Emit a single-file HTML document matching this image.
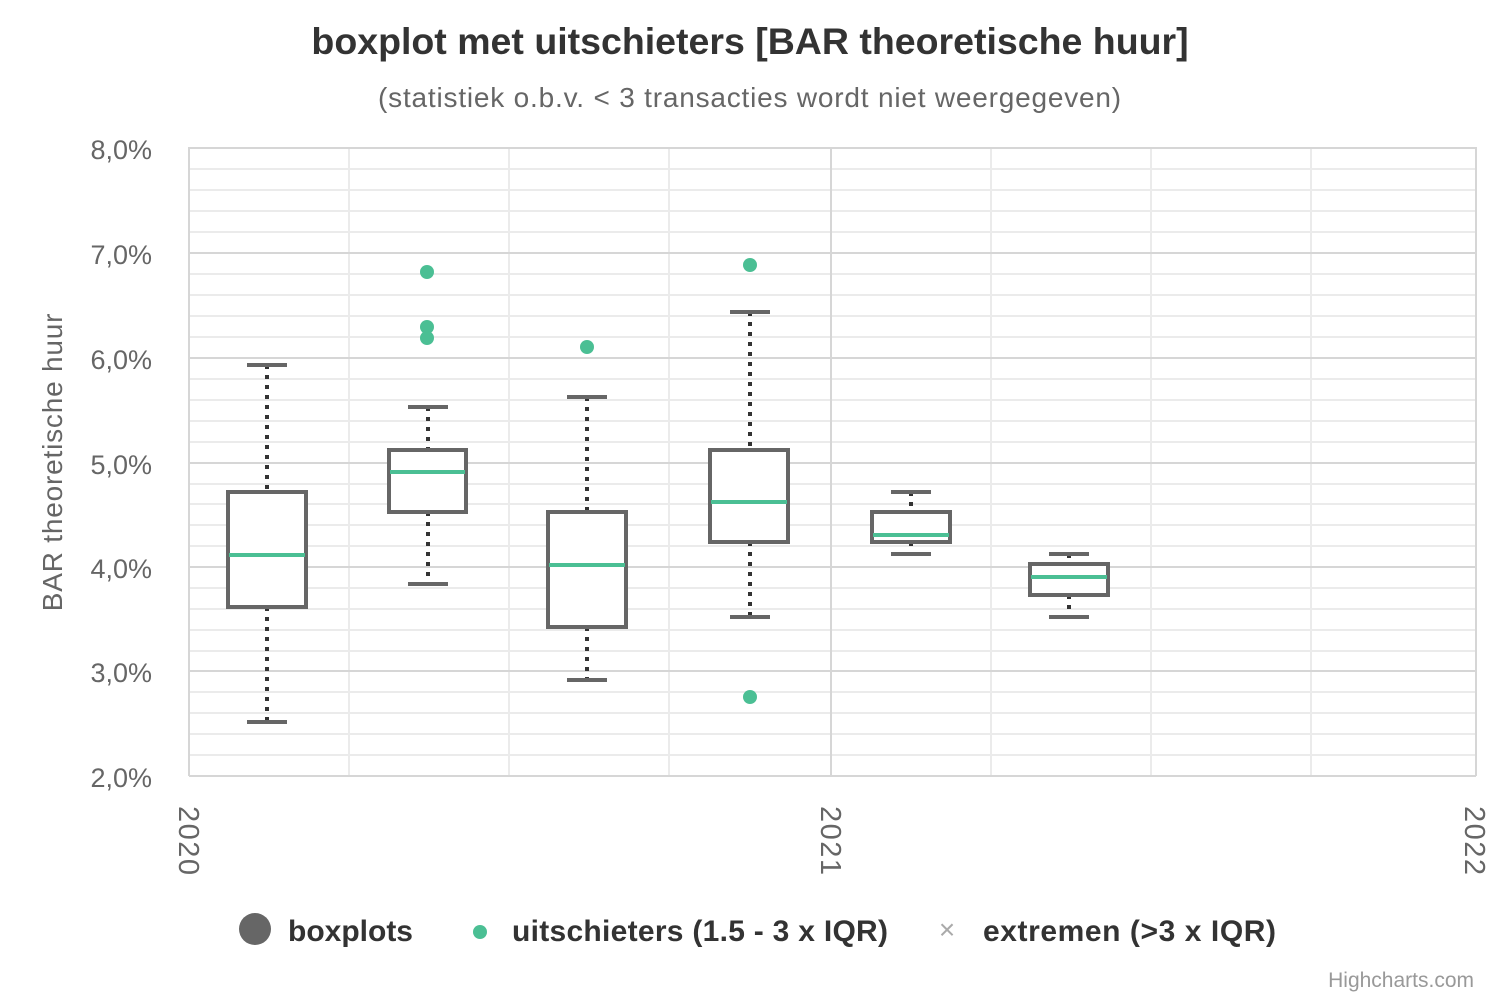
<!DOCTYPE html>
<html><head><meta charset="utf-8"><style>
html,body{margin:0;padding:0;background:#fff}
svg{display:block;font-family:"Liberation Sans",sans-serif}
</style></head><body>
<svg width="1500" height="1000" viewBox="0 0 1500 1000">
<rect width="1500" height="1000" fill="#fff"/>
<text x="750" y="54" text-anchor="middle" font-size="37.5" font-weight="bold" fill="#333">boxplot met uitschieters [BAR theoretische huur]</text>
<text x="750" y="107" text-anchor="middle" font-size="28" letter-spacing="0.8" fill="#666">(statistiek o.b.v. &lt; 3 transacties wordt niet weergegeven)</text>
<g stroke="#ebebeb" stroke-width="2">
<line x1="189" x2="1476" y1="169" y2="169"/><line x1="189" x2="1476" y1="190" y2="190"/><line x1="189" x2="1476" y1="211" y2="211"/><line x1="189" x2="1476" y1="232" y2="232"/>
<line x1="189" x2="1476" y1="274" y2="274"/><line x1="189" x2="1476" y1="295" y2="295"/><line x1="189" x2="1476" y1="316" y2="316"/><line x1="189" x2="1476" y1="337" y2="337"/>
<line x1="189" x2="1476" y1="379" y2="379"/><line x1="189" x2="1476" y1="400" y2="400"/><line x1="189" x2="1476" y1="421" y2="421"/><line x1="189" x2="1476" y1="442" y2="442"/>
<line x1="189" x2="1476" y1="484" y2="484"/><line x1="189" x2="1476" y1="504" y2="504"/><line x1="189" x2="1476" y1="525" y2="525"/><line x1="189" x2="1476" y1="546" y2="546"/>
<line x1="189" x2="1476" y1="588" y2="588"/><line x1="189" x2="1476" y1="609" y2="609"/><line x1="189" x2="1476" y1="630" y2="630"/><line x1="189" x2="1476" y1="651" y2="651"/>
<line x1="189" x2="1476" y1="692" y2="692"/><line x1="189" x2="1476" y1="713" y2="713"/><line x1="189" x2="1476" y1="734" y2="734"/><line x1="189" x2="1476" y1="755" y2="755"/>
<line x1="349" x2="349" y1="147" y2="776"/><line x1="509" x2="509" y1="147" y2="776"/><line x1="669" x2="669" y1="147" y2="776"/><line x1="991" x2="991" y1="147" y2="776"/><line x1="1151" x2="1151" y1="147" y2="776"/><line x1="1311" x2="1311" y1="147" y2="776"/>
</g>
<g stroke="#d6d6d6" stroke-width="2">
<line x1="189" x2="1476" y1="148" y2="148"/><line x1="189" x2="1476" y1="253" y2="253"/><line x1="189" x2="1476" y1="358" y2="358"/><line x1="189" x2="1476" y1="463" y2="463"/><line x1="189" x2="1476" y1="567" y2="567"/><line x1="189" x2="1476" y1="671" y2="671"/><line x1="189" x2="1476" y1="776" y2="776"/>
<line x1="189" x2="189" y1="147" y2="776"/><line x1="831" x2="831" y1="147" y2="776"/><line x1="1476" x2="1476" y1="147" y2="776"/>
</g>
<g font-size="27" fill="#666" text-anchor="end">
<text x="152" y="159">8,0%</text><text x="152" y="264">7,0%</text><text x="152" y="369">6,0%</text><text x="152" y="474">5,0%</text><text x="152" y="578">4,0%</text><text x="152" y="682">3,0%</text><text x="152" y="787">2,0%</text>
</g>
<text transform="translate(62,462) rotate(-90)" text-anchor="middle" font-size="28" letter-spacing="0.8" fill="#666">BAR theoretische huur</text>
<g font-size="29" letter-spacing="1.5" fill="#666">
<text transform="translate(179,806) rotate(90)">2020</text>
<text transform="translate(821,806) rotate(90)">2021</text>
<text transform="translate(1465,806) rotate(90)">2022</text>
</g>
<g stroke="#333" stroke-width="4" stroke-dasharray="4 6">
<line x1="267" x2="267" y1="365" y2="492"/><line x1="267" x2="267" y1="607" y2="722"/>
<line x1="428" x2="428" y1="407" y2="450"/><line x1="428" x2="428" y1="512" y2="584"/>
<line x1="587" x2="587" y1="397" y2="512"/><line x1="587" x2="587" y1="627" y2="680"/>
<line x1="750" x2="750" y1="312" y2="450"/><line x1="750" x2="750" y1="542" y2="617"/>
<line x1="911" x2="911" y1="492" y2="512"/><line x1="911" x2="911" y1="542" y2="554"/>
<line x1="1069" x2="1069" y1="554" y2="564"/><line x1="1069" x2="1069" y1="595" y2="617"/>
</g>
<g stroke="#666" stroke-width="4">
<line x1="247" x2="287" y1="365" y2="365"/><line x1="247" x2="287" y1="722" y2="722"/>
<line x1="408" x2="448" y1="407" y2="407"/><line x1="408" x2="448" y1="584" y2="584"/>
<line x1="567" x2="607" y1="397" y2="397"/><line x1="567" x2="607" y1="680" y2="680"/>
<line x1="730" x2="770" y1="312" y2="312"/><line x1="730" x2="770" y1="617" y2="617"/>
<line x1="891" x2="931" y1="492" y2="492"/><line x1="891" x2="931" y1="554" y2="554"/>
<line x1="1049" x2="1089" y1="554" y2="554"/><line x1="1049" x2="1089" y1="617" y2="617"/>
</g>
<g stroke="#666" stroke-width="4" fill="#fff">
<rect x="228" y="492" width="78" height="115"/>
<rect x="389" y="450" width="77" height="62"/>
<rect x="548" y="512" width="78" height="115"/>
<rect x="710" y="450" width="78" height="92"/>
<rect x="872" y="512" width="78" height="30"/>
<rect x="1030" y="564" width="78" height="31"/>
</g>
<g stroke="#4bbf94" stroke-width="4">
<line x1="229" x2="305" y1="555" y2="555"/>
<line x1="390" x2="465" y1="472" y2="472"/>
<line x1="549" x2="625" y1="565" y2="565"/>
<line x1="711" x2="787" y1="502" y2="502"/>
<line x1="873" x2="949" y1="535" y2="535"/>
<line x1="1031" x2="1107" y1="577" y2="577"/>
</g>
<g fill="#4bbf94">
<circle cx="427" cy="272" r="7"/><circle cx="427" cy="327" r="7"/><circle cx="427" cy="338" r="7"/>
<circle cx="587" cy="347" r="7"/><circle cx="750" cy="265" r="7"/><circle cx="750" cy="697" r="7"/>
</g>
<circle cx="255" cy="929" r="16" fill="#666"/>
<text x="288" y="941" font-size="30" font-weight="bold" fill="#333">boxplots</text>
<circle cx="480" cy="932" r="7" fill="#4bbf94"/>
<text x="512" y="941" font-size="30" font-weight="bold" fill="#333" textLength="376">uitschieters (1.5 - 3 x IQR)</text>
<text x="947" y="939" font-size="28" text-anchor="middle" fill="#aaa">×</text>
<text x="983" y="941" font-size="30" font-weight="bold" fill="#333" textLength="293">extremen (&gt;3 x IQR)</text>
<text x="1474" y="987" font-size="21" text-anchor="end" fill="#999">Highcharts.com</text>
</svg>
</body></html>
